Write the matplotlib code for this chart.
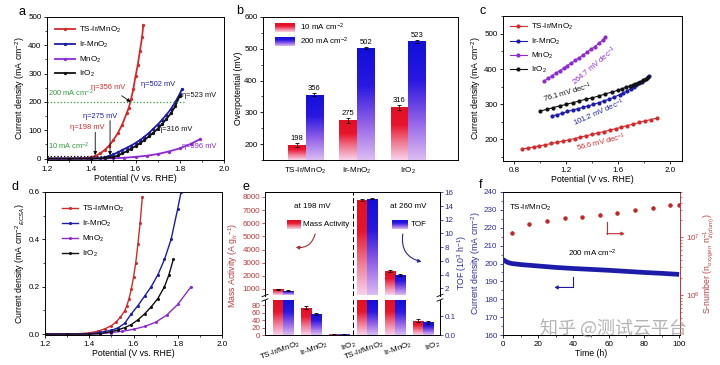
import numpy as np
import matplotlib
matplotlib.use('Agg')
import matplotlib.pyplot as plt
from matplotlib.colors import LinearSegmentedColormap
from matplotlib.ticker import AutoMinorLocator, MultipleLocator, LogLocator, NullFormatter

plt.rcParams['font.family'] = ['Liberation Sans', 'DejaVu Sans']
plt.rcParams['mathtext.fontset'] = 'custom'
plt.rcParams['mathtext.rm'] = 'Liberation Sans'
plt.rcParams['mathtext.it'] = 'Liberation Sans:italic'
plt.rcParams['mathtext.bf'] = 'Liberation Sans:bold'
plt.rcParams['axes.linewidth'] = 0.7

C_RED = '#d22b2b'
C_BLUE = '#1c1ca8'
C_PURP = '#8e2ad0'
C_BLK = '#111111'
C_MA = '#b83a3a'
C_TOF = '#2e2e9e'

names = ['TS-Ir/MnO$_2$', 'Ir-MnO$_2$', 'MnO$_2$', 'IrO$_2$']
cat3 = ['TS-Ir/MnO$_2$', 'Ir-MnO$_2$', 'IrO$_2$']

### (a) LSV, mA cm-2
a_ts_x = [1.20, 1.25, 1.30, 1.35, 1.38, 1.40, 1.42, 1.44, 1.46, 1.48, 1.50, 1.52, 1.54, 1.56, 1.57,
          1.58, 1.59, 1.60, 1.61, 1.62, 1.63, 1.635]
a_ts_y = [0, 0, 0, 1, 2, 5, 10, 18, 30, 45, 65, 90, 120, 160, 180, 210, 245, 290, 330, 380, 430, 470]
a_ir_x = [1.20, 1.30, 1.40, 1.44, 1.46, 1.48, 1.50, 1.52, 1.54, 1.56, 1.58, 1.60, 1.62, 1.64, 1.66,
          1.68, 1.70, 1.72, 1.74, 1.76, 1.78, 1.80, 1.81]
a_ir_y = [0, 0, 0.5, 2, 5, 9, 15, 22, 30, 38, 46, 55, 65, 77, 90, 105, 120, 137, 155, 175, 200, 228, 245]
a_mn_x = [1.20, 1.30, 1.40, 1.50, 1.55, 1.60, 1.65, 1.70, 1.75, 1.80, 1.85, 1.89]
a_mn_y = [0, 0, 0, 1, 3, 6, 10, 16, 25, 36, 52, 68]
a_io_x = [1.20, 1.30, 1.40, 1.46, 1.50, 1.52, 1.54, 1.56, 1.58, 1.60, 1.62, 1.64, 1.66, 1.68, 1.70,
          1.72, 1.74, 1.76, 1.78, 1.80]
a_io_y = [0, 0, 0, 1, 5, 11, 18, 26, 35, 44, 54, 65, 78, 91, 105, 122, 140, 160, 185, 222]

### (b) overpotentials, mV
eta10 = [198, 275, 316]
eta10_err = [6, 7, 8]
eta200 = [356, 502, 523]
eta200_err = [5, 4, 5]

### (c) Tafel
c_ts_x = [0.86, 0.905, 0.95, 0.995, 1.04, 1.085, 1.13, 1.175, 1.22, 1.265, 1.31, 1.355, 1.40, 1.445,
          1.49, 1.535, 1.58, 1.625, 1.67, 1.715, 1.76, 1.805, 1.85, 1.895]
c_ts_y = [172, 175, 178, 181, 184, 188, 191, 195, 198, 202, 206, 210, 214, 218, 222, 226, 230, 234,
          239, 243, 248, 252, 256, 260]
c_ir_x = [1.09, 1.13, 1.17, 1.21, 1.25, 1.29, 1.33, 1.37, 1.41, 1.45, 1.49, 1.53, 1.57, 1.61, 1.64,
          1.67, 1.70, 1.72, 1.74, 1.76, 1.78, 1.80, 1.82, 1.84]
c_ir_y = [266, 270, 274, 279, 283, 287, 291, 295, 299, 304, 309, 314, 320, 327, 332, 338, 344, 349,
          354, 359, 364, 369, 374, 380]
c_mn_x = [1.03, 1.06, 1.09, 1.12, 1.15, 1.18, 1.21, 1.24, 1.27, 1.30, 1.33, 1.36, 1.39, 1.42, 1.45,
          1.48, 1.50]
c_mn_y = [366, 373, 380, 388, 395, 402, 410, 417, 425, 432, 440, 448, 456, 464, 473, 482, 491]
c_io_x = [1.00, 1.05, 1.10, 1.15, 1.20, 1.25, 1.30, 1.35, 1.40, 1.45, 1.50, 1.55, 1.60, 1.63, 1.66,
          1.69, 1.71, 1.73, 1.75, 1.77, 1.79, 1.81, 1.83]
c_io_y = [280, 285, 290, 295, 299, 304, 309, 314, 318, 323, 329, 334, 340, 344, 348, 352, 355, 358,
          361, 364, 368, 372, 377]
tafel = ['56.6 mV dec$^{-1}$', '101.2 mV dec$^{-1}$', '264.7 mV dec$^{-1}$', '76.1 mV dec$^{-1}$']

### (d) ECSA normalised LSV
d_ts_x = [1.20, 1.30, 1.36, 1.40, 1.44, 1.47, 1.50, 1.52, 1.54, 1.56, 1.57, 1.58, 1.59, 1.60, 1.61,
          1.62, 1.63, 1.64]
d_ts_y = [0, 0, 0.002, 0.005, 0.012, 0.022, 0.035, 0.05, 0.07, 0.098, 0.12, 0.15, 0.19, 0.24, 0.30,
          0.38, 0.47, 0.58]
d_ir_x = [1.20, 1.30, 1.40, 1.45, 1.50, 1.53, 1.56, 1.59, 1.62, 1.65, 1.68, 1.71, 1.74, 1.77, 1.80,
          1.815]
d_ir_y = [0, 0, 0.002, 0.007, 0.016, 0.026, 0.045, 0.085, 0.12, 0.16, 0.2, 0.25, 0.315, 0.4, 0.53, 0.6]
d_mn_x = [1.20, 1.30, 1.40, 1.45, 1.50, 1.55, 1.60, 1.65, 1.70, 1.75, 1.80, 1.86]
d_mn_y = [0, 0, 0, 0.002, 0.006, 0.012, 0.02, 0.032, 0.05, 0.08, 0.125, 0.2]
d_io_x = [1.20, 1.30, 1.40, 1.45, 1.50, 1.53, 1.56, 1.59, 1.62, 1.65, 1.68, 1.71, 1.74, 1.76, 1.78]
d_io_y = [0, 0, 0, 0.002, 0.01, 0.018, 0.027, 0.04, 0.06, 0.085, 0.115, 0.15, 0.2, 0.25, 0.315]

### (e) mass activity (A g-1) and TOF (10^3 h-1), at 198 mV then at 260 mV
e_labels = cat3 + cat3
mass_act = [980, 74, 1.5, 7780, 2370, 39]
mass_err = [40, 3, 0.6, 50, 50, 3]
tof = [1.65, 0.115, 0.003, 15.1, 3.95, 0.069]
tof_err = [0.08, 0.006, 0.002, 0.12, 0.12, 0.007]

### (f) stability
f_t = [0, 1, 3, 5, 10, 15, 20, 30, 40, 50, 60, 70, 80, 90, 100]
f_j = [202.3, 201.5, 200.5, 200.0, 199.4, 199.0, 198.6, 197.8, 197.2, 196.7, 196.2, 195.6, 195.0,
       194.5, 193.9]
s_t = [5, 15, 25, 35, 45, 55, 65, 75, 85, 95, 100]
s_num = [1.2e7, 1.68e7, 1.94e7, 2.14e7, 2.22e7, 2.47e7, 2.63e7, 2.97e7, 3.26e7, 3.59e7, 3.67e7]

red_cmap = LinearSegmentedColormap.from_list('rg', ['#f8d2ec', '#f07a92', '#e8152c', '#e01020'])
blue_cmap = LinearSegmentedColormap.from_list('bg', ['#dcbdf2', '#9060e8', '#2a18e0', '#1010d8'])
GRAD = np.linspace(0, 1, 256).reshape(-1, 1)

TICK = 5.8
LAB = 6.3

fig = plt.figure(figsize=(7.2, 3.65), dpi=100)


def add_ax(l, t, r, b):
    return fig.add_axes([l / 720, 1 - b / 365, (r - l) / 720, (b - t) / 365])


def style(ax, minor=True):
    ax.tick_params(direction='out', length=2.5, width=0.6, labelsize=TICK, pad=1.5)
    ax.tick_params(which='minor', direction='out', length=1.4, width=0.5)
    if minor:
        ax.xaxis.set_minor_locator(AutoMinorLocator(2))
        ax.yaxis.set_minor_locator(AutoMinorLocator(2))


def grad_bar(ax, x, h, w, cmap, ylo, yhi):
    bars = ax.bar(x, h, w, color='none', edgecolor='none', zorder=2)
    for b in bars:
        y0 = max(b.get_y(), ylo)
        y1 = min(b.get_y() + b.get_height(), yhi)
        if y1 <= y0:
            continue
        im = ax.imshow(GRAD, extent=[b.get_x(), b.get_x() + b.get_width(), y0, y1],
                       origin='lower', aspect='auto', cmap=cmap, zorder=2)
        im.set_clip_path(b)
    return bars


def grad_patch(l, t, r, b, cmap):
    pax = add_ax(l, t, r, b)
    pax.imshow(GRAD, origin='lower', aspect='auto', cmap=cmap, extent=[0, 1, 0, 1])
    pax.axis('off')


### ---- a ----
axa = add_ax(47, 17, 224, 160)
kw = dict(lw=1.3, marker='o', ms=2.4, markeredgewidth=0)
axa.plot(a_ts_x, a_ts_y, color=C_RED, label=names[0], **kw)
axa.plot(a_ir_x, a_ir_y, color=C_BLUE, label=names[1], **kw)
axa.plot(a_mn_x, a_mn_y, color=C_PURP, label=names[2], **kw)
axa.plot(a_io_x, a_io_y, color=C_BLK, label=names[3], **kw)
axa.plot([1.2, 1.82], [200, 200], ls=':', color='#2f9a3a', lw=0.9)
axa.plot([1.2, 1.52], [10, 10], ls=':', color='k', lw=0.9)
axa.text(1.205, 212, '200 mA cm$^{-2}$', color='#2f9a3a', fontsize=5.4, va='bottom')
axa.text(1.205, 22, '10 mA cm$^{-2}$', color='#2f9a3a', fontsize=5.4, va='bottom')
ann = dict(fontsize=5.4, ha='center', va='center')
axa.text(1.475, 252, 'η=356 mV', color=C_RED, **ann)
axa.text(1.703, 263, 'η=502 mV', color=C_BLUE, **ann)
axa.text(1.886, 222, 'η=523 mV', color=C_BLK, **ann)
axa.text(1.44, 150, 'η=275 mV', color=C_BLUE, **ann)
axa.text(1.383, 111, 'η=198 mV', color=C_RED, **ann)
axa.text(1.778, 103, 'η=316 mV', color=C_BLK, **ann)
axa.text(1.89, 41, 'η=396 mV', color=C_PURP, **ann)
arr = dict(arrowstyle='-|>', color='k', lw=0.6, mutation_scale=5, shrinkA=0, shrinkB=0)
axa.annotate('', xy=(1.578, 200), xytext=(1.538, 222), arrowprops=arr)
axa.annotate('', xy=(1.485, 12), xytext=(1.485, 134), arrowprops=arr)
axa.annotate('', xy=(1.418, 12), xytext=(1.418, 93), arrowprops=arr)
axa.set_xlim(1.2, 2.0)
axa.set_ylim(-5, 500)
axa.xaxis.set_major_locator(MultipleLocator(0.2))
axa.yaxis.set_major_locator(MultipleLocator(100))
style(axa)
axa.set_xlabel('Potential (V vs. RHE)', fontsize=LAB, labelpad=1)
axa.set_ylabel('Current density (mA cm$^{-2}$)', fontsize=LAB, labelpad=1)
axa.legend(loc='upper left', bbox_to_anchor=(0.027, 0.966), frameon=False, fontsize=TICK,
           handlelength=2.5, handletextpad=0.5, labelspacing=0.55, borderaxespad=0)

### ---- b ----
axb = add_ax(263, 17, 458, 160)
xb = np.arange(3)
wb = 0.345
grad_bar(axb, xb - wb / 2, eta10, wb, red_cmap, 150, 600)
grad_bar(axb, xb + wb / 2, eta200, wb, blue_cmap, 150, 600)
ebk = dict(fmt='none', ecolor='k', elinewidth=0.6, capsize=1.5, capthick=0.6, zorder=3)
axb.errorbar(xb - wb / 2, eta10, yerr=eta10_err, **ebk)
axb.errorbar(xb + wb / 2, eta200, yerr=eta200_err, **ebk)
for i in range(3):
    axb.text(xb[i] - wb / 2, eta10[i] + eta10_err[i] + 3, str(eta10[i]), ha='center', va='bottom',
             fontsize=5.5)
    axb.text(xb[i] + wb / 2, eta200[i] + eta200_err[i] + 3, str(eta200[i]), ha='center',
             va='bottom', fontsize=5.5)
axb.set_xlim(-0.83, 2.97)
axb.set_ylim(150, 600)
axb.set_xticks(xb)
axb.set_xticklabels(cat3)
axb.yaxis.set_major_locator(MultipleLocator(100))
style(axb, minor=False)
axb.yaxis.set_minor_locator(AutoMinorLocator(2))
axb.tick_params(axis='x', length=0, pad=4)
axb.set_ylabel('Overpotential (mV)', fontsize=LAB, labelpad=1)
grad_patch(275, 23, 295, 32, red_cmap)
grad_patch(275, 37, 295, 46, blue_cmap)
fig.text(300 / 720, 1 - 27.5 / 365, '10 mA cm$^{-2}$', fontsize=TICK, va='center')
fig.text(300 / 720, 1 - 41.5 / 365, '200 mA cm$^{-2}$', fontsize=TICK, va='center')

### ---- c ----
axc = add_ax(503, 16, 682, 161)
kc = dict(lw=0.8, marker='o', ms=3.0, markeredgewidth=0)
axc.plot(c_ts_x, c_ts_y, color=C_RED, label=names[0], **kc)
axc.plot(c_ir_x, c_ir_y, color=C_BLUE, label=names[1], **kc)
axc.plot(c_mn_x, c_mn_y, color=C_PURP, label=names[2], **kc)
axc.plot(c_io_x, c_io_y, color=C_BLK, label=names[3], **kc)
tk = dict(fontsize=5.5, ha='center', va='center', rotation_mode='anchor')
axc.text(1.47, 190, tafel[0], color=C_RED, rotation=14, **tk)
axc.text(1.45, 276, tafel[1], color=C_BLUE, rotation=24, **tk)
axc.text(1.42, 410, tafel[2], color=C_PURP, rotation=40, **tk)
axc.text(1.21, 333, tafel[3], color=C_BLK, rotation=16, **tk)
axc.set_xlim(0.715, 2.09)
axc.set_ylim(138, 551)
axc.xaxis.set_major_locator(MultipleLocator(0.4))
axc.yaxis.set_major_locator(MultipleLocator(100))
style(axc)
axc.set_xlabel('Potential (V vs. RHE)', fontsize=LAB, labelpad=1)
axc.set_ylabel('Current density (mA cm$^{-2}$)', fontsize=LAB, labelpad=1)
axc.legend(loc='upper left', bbox_to_anchor=(0.021, 0.98), frameon=False, fontsize=TICK,
           handlelength=2.1, handletextpad=0.5, labelspacing=0.5, borderaxespad=0)

### ---- d ----
axd = add_ax(45, 192, 222, 335)
kd = dict(lw=1.0, marker='o', ms=2.2, markeredgewidth=0)
axd.plot(d_ts_x, d_ts_y, color=C_RED, label=names[0], **kd)
axd.plot(d_ir_x, d_ir_y, color=C_BLUE, label=names[1], **kd)
axd.plot(d_mn_x, d_mn_y, color=C_PURP, label=names[2], **kd)
axd.plot(d_io_x, d_io_y, color=C_BLK, label=names[3], **kd)
axd.set_xlim(1.2, 2.0)
axd.set_ylim(-0.004, 0.6)
axd.xaxis.set_major_locator(MultipleLocator(0.2))
axd.yaxis.set_major_locator(MultipleLocator(0.2))
style(axd)
axd.set_xlabel('Potential (V vs. RHE)', fontsize=LAB, labelpad=1)
axd.set_ylabel('Current density (mA cm$^{-2}$$_{ECSA}$)', fontsize=LAB, labelpad=1)
axd.legend(loc='upper left', bbox_to_anchor=(0.078, 0.938), frameon=False, fontsize=TICK,
           handlelength=2.0, handletextpad=0.5, labelspacing=0.6, borderaxespad=0)

### ---- e (broken axis, twin scales) ----
eu = add_ax(265, 192, 440, 295.5)
el = add_ax(265, 300, 440, 335)
eur = eu.twinx()
elr = el.twinx()
xe = np.arange(6)
we = 0.37
lims = [(eu, eur, (500, 8380), (0.95, 16.05)), (el, elr, (0, 94.5), (0, 0.189))]
for axl, axr, yl, yr in lims:
    grad_bar(axl, xe - we / 2, mass_act, we, red_cmap, yl[0], yl[1])
    grad_bar(axr, xe + we / 2, tof, we, blue_cmap, yr[0], yr[1])
    axl.errorbar(xe - we / 2, mass_act, yerr=mass_err, **ebk)
    axr.errorbar(xe + we / 2, tof, yerr=tof_err, **ebk)
    axl.set_ylim(*yl)
    axr.set_ylim(*yr)
    for a in (axl, axr):
        a.set_xlim(-0.64, 5.6)
        a.axvline(2.5, color='k', lw=0.7, ls=(0, (5, 3)), zorder=1)
        a.tick_params(direction='out', length=2.2, width=0.6, labelsize=TICK, pad=1.2)
    axl.tick_params(axis='y', colors=C_MA, labelcolor=C_MA)
    axr.tick_params(axis='y', colors=C_TOF, labelcolor=C_TOF)
    axl.spines['left'].set_color('k')
    axr.spines['right'].set_color('k')
eu.set_yticks(range(1000, 8001, 1000))
eur.set_yticks(range(2, 17, 2))
el.set_yticks([0, 20, 40, 60, 80])
elr.set_yticks([0.0, 0.1])
elr.set_yticklabels(['0.0', '0.1'])
for a in (eu, eur):
    a.spines['bottom'].set_visible(False)
    a.tick_params(axis='x', bottom=False, labelbottom=False)
for a in (el, elr):
    a.spines['top'].set_visible(False)
el.set_xticks(xe + 0.55)
el.set_xticklabels(e_labels, rotation=20, ha='right', rotation_mode='anchor', fontsize=TICK)
el.tick_params(axis='x', length=0, pad=3)
elr.tick_params(axis='x', bottom=False)
# break marks
for xx in (0.0, 1.0):
    for yy in (295.5, 300):
        fig.add_artist(plt.Line2D([(265 + 175 * xx - 3) / 720, (265 + 175 * xx + 3) / 720],
                                  [1 - (yy + 1.2) / 365, 1 - (yy - 1.2) / 365], color='k', lw=0.6))
eu.text(0.27, 0.86, 'at 198 mV', transform=eu.transAxes, fontsize=TICK, ha='center', va='center')
eu.text(0.82, 0.86, 'at 260 mV', transform=eu.transAxes, fontsize=TICK, ha='center', va='center')
grad_patch(287, 220, 301, 229, red_cmap)
grad_patch(392, 220, 407, 229, blue_cmap)
fig.text(303 / 720, 1 - 224.5 / 365, 'Mass Activity', fontsize=TICK, va='center')
fig.text(411 / 720, 1 - 224.5 / 365, 'TOF', fontsize=TICK, va='center')
eu.annotate('', xy=(0.16, 0.47), xytext=(0.29, 0.62), xycoords='axes fraction',
            arrowprops=dict(arrowstyle='-|>', color='#9a3030', lw=0.8, mutation_scale=5,
                            connectionstyle='arc3,rad=-0.5'))
eu.annotate('', xy=(0.91, 0.32), xytext=(0.79, 0.62), xycoords='axes fraction',
            arrowprops=dict(arrowstyle='-|>', color='#2a2a8a', lw=0.8, mutation_scale=5,
                            connectionstyle='arc3,rad=0.5'))
fig.text(233 / 720, 1 - 265 / 365, 'Mass Activity (A g$_{Ir}$$^{-1}$)', rotation=90,
         fontsize=LAB, color=C_MA, ha='center', va='center')
fig.text(462 / 720, 1 - 262 / 365, 'TOF (10$^{3}$ h$^{-1}$)', rotation=90,
         fontsize=LAB, color=C_TOF, ha='center', va='center')

### ---- f ----
axf = add_ax(503, 192, 680, 335)
axf.plot(f_t, f_j, color=C_BLUE, lw=3.4, solid_capstyle='butt')
axf.set_xlim(0, 100.5)
axf.set_ylim(160, 240)
axf.xaxis.set_major_locator(MultipleLocator(20))
axf.yaxis.set_major_locator(MultipleLocator(10))
style(axf)
axf.tick_params(axis='y', colors=C_TOF, labelcolor=C_TOF)
axf.tick_params(axis='y', which='minor', colors=C_TOF)
axf.spines['left'].set_color(C_TOF)
axf.set_xlabel('Time (h)', fontsize=LAB, labelpad=1)
axf.set_ylabel('Current density (mA cm$^{-2}$)', fontsize=LAB, color=C_TOF, labelpad=1)
axf.text(3.5, 231, 'TS-Ir/MnO$_2$', fontsize=TICK, va='center')
axf.text(37, 205.8, '200 mA cm$^{-2}$', fontsize=TICK, va='center')
axf.plot([58.9, 58.9], [223.1, 216.7], color='#c83030', lw=0.8)
axf.annotate('', xy=(69.2, 216.7), xytext=(58.9, 216.7),
             arrowprops=dict(arrowstyle='-|>', color='#c83030', lw=0.8, mutation_scale=5,
                             shrinkA=0, shrinkB=0))
axf.plot([39.6, 39.6], [192.6, 186.6], color=C_BLUE, lw=0.8)
axf.annotate('', xy=(29.1, 186.6), xytext=(39.6, 186.6),
             arrowprops=dict(arrowstyle='-|>', color=C_BLUE, lw=0.8, mutation_scale=5,
                             shrinkA=0, shrinkB=0))
axf2 = axf.twinx()
axf2.set_yscale('log')
axf2.errorbar(s_t, s_num, yerr=[np.array(s_num) * 0.06, np.array(s_num) * 0.06], fmt='o',
              color='#c02828', ms=3.2, elinewidth=0.7, capsize=0, markeredgewidth=0)
axf2.set_ylim(10 ** 5.307, 10 ** 7.785)
axf2.yaxis.set_major_locator(LogLocator(base=10, numticks=5))
axf2.yaxis.set_minor_locator(LogLocator(base=10, subs=np.arange(2, 10), numticks=20))
axf2.yaxis.set_minor_formatter(NullFormatter())
axf2.tick_params(direction='out', length=2.5, width=0.6, labelsize=TICK, pad=1.5,
                 colors='#c04040', labelcolor='#c04040')
axf2.tick_params(which='minor', direction='out', length=1.4, width=0.5, colors='#c04040')
axf2.spines['right'].set_color('#c04040')
axf2.spines['left'].set_color(C_TOF)
axf2.set_ylabel('S-number (n$_{oxygen}$ n$^{-1}_{Ir(dum)}$)', fontsize=LAB, color='#c04040',
                labelpad=1)

### panel letters
for lab, x, y in [('a', 22, 12), ('b', 240, 11), ('c', 483, 11), ('d', 15, 187), ('e', 246, 187),
                  ('f', 481, 185)]:
    fig.text(x / 720, 1 - y / 365, lab, fontsize=9, ha='center', va='center')

fig.text(614 / 720, 1 - 328 / 365, '知乎 @测试云平台', fontsize=13, color='#9a9a9a', alpha=0.75,
         ha='center', va='center', family=['Noto Sans CJK SC', 'DejaVu Sans'])

fig.savefig('out.png', dpi=100)
